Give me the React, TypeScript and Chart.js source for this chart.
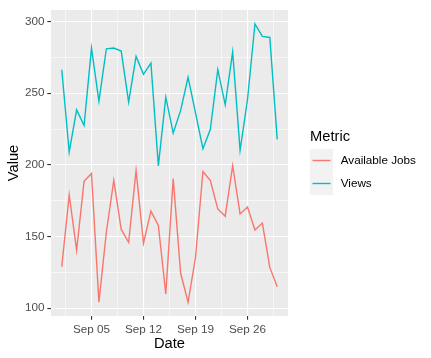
import React, { useEffect, useRef } from "react";
import { Chart, registerables } from "chart.js";

Chart.register(...registerables);

// September 2021 day numbers
const days = [1, 2, 3, 4, 5, 6, 7, 8, 9, 10, 11, 12, 13, 14, 15, 16, 17, 18, 19, 20, 21, 22, 23, 24, 25, 26, 27, 28, 29, 30];
const availableJobs = [129, 179, 140.5, 188.5, 194, 104.3, 153, 189.3, 155, 146, 196, 145.4, 167.8, 157.8, 110, 190.4, 124.4, 104.3, 135.4, 195.4, 189, 169.3, 164.2, 199.5, 165.8, 170.6, 154.6, 159.4, 128.5, 115];
const views = [266.4, 209, 238.4, 227.5, 281.5, 244.4, 281, 281.5, 279.4, 243.8, 275.7, 263.2, 271, 199.3, 247.2, 222.2, 238, 261.1, 236.3, 211.3, 224.8, 266.4, 241.9, 278.9, 210.2, 245.6, 298.4, 289.6, 288.9, 217.8];
const seriesNames = ["Available Jobs", "Views"];
const seriesColors = ["#F8766D", "#00BFC4"];
const xTickDays = [5, 12, 19, 26];
const xTickLabels = ["Sep 05", "Sep 12", "Sep 19", "Sep 26"];
const xMinorDays = [1.5, 8.5, 15.5, 22.5, 29.5];
const yTicks = [100, 150, 200, 250, 300];
const yMinorTicks = [125, 175, 225, 275];

const FONT = "'Liberation Sans', Arial, Helvetica, sans-serif";

export default function App() {
  const ref = useRef<HTMLCanvasElement | null>(null);

  useEffect(() => {
    document.body.style.margin = "0";
    const canvas = ref.current;
    if (!canvas) return;

    const allY = [...availableJobs, ...views];
    const yLo = Math.min(...allY);
    const yHi = Math.max(...allY);
    const yPad = (yHi - yLo) * 0.05;
    const xLo = days[0];
    const xHi = days[days.length - 1];
    const xPad = (xHi - xLo) * 0.05;

    const isMajorX = (v: number) => xTickDays.includes(v);
    const isMajorY = (v: number) => yTicks.includes(v);

    const panelBg = {
      id: "panelBg",
      beforeDraw(chart: any) {
        const { ctx, chartArea: a } = chart;
        ctx.save();
        ctx.fillStyle = "#EBEBEB";
        ctx.fillRect(a.left, a.top, a.right - a.left, a.bottom - a.top);
        ctx.restore();
      },
    };

    const decorations = {
      id: "decorations",
      afterDraw(chart: any) {
        const { ctx, chartArea: a } = chart;
        ctx.save();
        // axis titles
        ctx.fillStyle = "#000000";
        ctx.font = `14.7px ${FONT}`;
        ctx.textAlign = "center";
        ctx.textBaseline = "alphabetic";
        ctx.fillText("Date", (a.left + a.right) / 2, 347.5);
        ctx.save();
        ctx.translate(18, (a.top + a.bottom) / 2);
        ctx.rotate(-Math.PI / 2);
        ctx.fillText("Value", 0, 0);
        ctx.restore();

        // legend
        ctx.textAlign = "left";
        ctx.fillText("Metric", 310, 141);
        const keyX = 310;
        const keyW = 23;
        const keyH = 23;
        const keyTop = 149;
        seriesNames.forEach((name, i) => {
          const y0 = keyTop + i * keyH;
          ctx.fillStyle = "#F2F2F2";
          ctx.fillRect(keyX, y0, keyW, keyH);
          ctx.strokeStyle = seriesColors[i];
          ctx.lineWidth = 1.4;
          ctx.beginPath();
          ctx.moveTo(keyX + 2.5, y0 + keyH / 2);
          ctx.lineTo(keyX + keyW - 2.5, y0 + keyH / 2);
          ctx.stroke();
          ctx.fillStyle = "#000000";
          ctx.font = `11.7px ${FONT}`;
          ctx.textBaseline = "middle";
          ctx.fillText(name, 340.7, y0 + keyH / 2);
        });
        ctx.restore();
      },
    };

    const chart = new Chart(canvas, {
      type: "line",
      data: {
        datasets: [
          {
            label: seriesNames[0],
            data: days.map((d, i) => ({ x: d, y: availableJobs[i] })),
            borderColor: seriesColors[0],
            borderWidth: 1.4,
            pointRadius: 0,
            tension: 0,
            fill: false,
          },
          {
            label: seriesNames[1],
            data: days.map((d, i) => ({ x: d, y: views[i] })),
            borderColor: seriesColors[1],
            borderWidth: 1.4,
            pointRadius: 0,
            tension: 0,
            fill: false,
          },
        ],
      },
      options: {
        animation: false,
        responsive: false,
        devicePixelRatio: 1,
        layout: { padding: { left: 0, right: 143, top: 7, bottom: 0 } },
        plugins: { legend: { display: false }, tooltip: { enabled: false } },
        scales: {
          x: {
            type: "linear",
            min: xLo - xPad,
            max: xHi + xPad,
            afterBuildTicks: (scale: any) => {
              scale.ticks = [...xMinorDays, ...xTickDays].sort((a, b) => a - b).map((v) => ({ value: v }));
            },
            afterFit: (scale: any) => {
              scale.height = 42;
            },
            ticks: {
              autoSkip: false,
              maxRotation: 0,
              minRotation: 0,
              padding: 2.9,
              color: "#4D4D4D",
              font: { family: FONT, size: 11.7 },
              callback: (v: any) => {
                const idx = xTickDays.indexOf(Number(v));
                return idx >= 0 ? xTickLabels[idx] : "";
              },
            },
            grid: {
              color: "#FFFFFF",
              lineWidth: (c: any) => (isMajorX(c.tick?.value) ? 1.1 : 0.55),
              tickColor: (c: any) => (isMajorX(c.tick?.value) ? "#333333" : "rgba(0,0,0,0)"),
              tickLength: 3.7,
              tickWidth: 1.1,
            },
            border: { display: false },
          },
          y: {
            type: "linear",
            min: yLo - yPad,
            max: yHi + yPad,
            afterBuildTicks: (scale: any) => {
              scale.ticks = [...yTicks, ...yMinorTicks].sort((a, b) => a - b).map((v) => ({ value: v }));
            },
            afterFit: (scale: any) => {
              scale.width = 51;
            },
            ticks: {
              autoSkip: false,
              padding: 2.9,
              color: "#4D4D4D",
              font: { family: FONT, size: 11.7 },
              callback: (v: any) => (isMajorY(Number(v)) ? String(v) : ""),
            },
            grid: {
              color: "#FFFFFF",
              lineWidth: (c: any) => (isMajorY(c.tick?.value) ? 1.1 : 0.55),
              tickColor: (c: any) => (isMajorY(c.tick?.value) ? "#333333" : "rgba(0,0,0,0)"),
              tickLength: 3.7,
              tickWidth: 1.1,
            },
            border: { display: false },
          },
        },
      },
      plugins: [panelBg, decorations],
    } as any);

    return () => chart.destroy();
  }, []);

  return (
    <div style={{ width: 431, height: 358, background: "#FFFFFF" }}>
      <canvas ref={ref} width={431} height={358} style={{ width: 431, height: 358, display: "block" }} />
    </div>
  );
}
